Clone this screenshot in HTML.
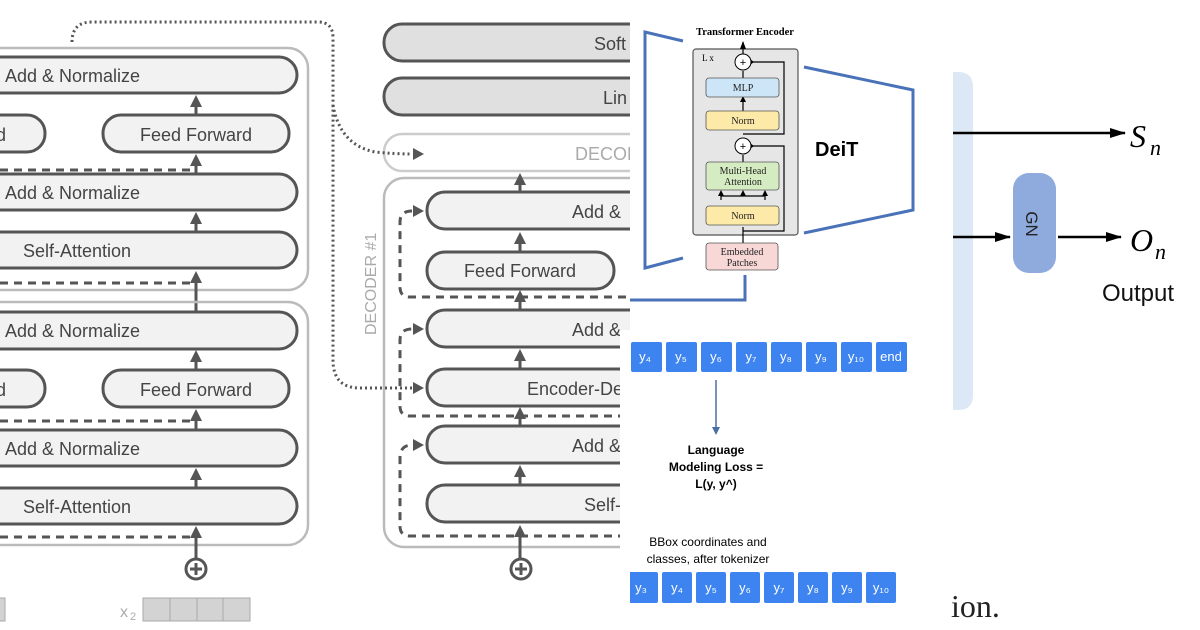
<!DOCTYPE html>
<html><head><meta charset="utf-8"><style>
html,body{margin:0;padding:0;background:#fff;}
svg{display:block;}
</style></head><body>
<svg width="1200" height="630" viewBox="0 0 1200 630" xmlns="http://www.w3.org/2000/svg" font-family="Liberation Sans, DejaVu Sans, sans-serif">
<defs>
<marker id="ga" markerWidth="12" markerHeight="12" refX="6" refY="6" orient="auto" markerUnits="userSpaceOnUse"><path d="M0,0 L12,6 L0,12 z" fill="#555"/></marker>
<marker id="ka" markerWidth="8" markerHeight="6" refX="7" refY="3" orient="auto" markerUnits="userSpaceOnUse"><path d="M0,0 L8,3 L0,6 z" fill="#000"/></marker>
<marker id="ka2" markerWidth="16" markerHeight="10" refX="15" refY="5" orient="auto" markerUnits="userSpaceOnUse"><path d="M0,0 L16,5 L0,10 z" fill="#000"/></marker>
<clipPath id="lc"><rect x="0" y="0" width="630" height="630"/></clipPath>
</defs>

<g clip-path="url(#lc)">
<rect x="-40" y="48" width="348" height="242" rx="20" fill="none" stroke="#bbb" stroke-width="2.5"/>
<rect x="-40" y="57" width="337" height="36" rx="18" fill="#f2f2f2" stroke="#555" stroke-width="3"/>
<text x="5" y="82" font-size="18" fill="#444">Add &amp; Normalize</text>
<rect x="-140" y="115" width="185" height="37" rx="18" fill="#f2f2f2" stroke="#555" stroke-width="3"/>
<text x="-10" y="141" font-size="18" fill="#444">rd</text>
<rect x="103" y="115" width="186" height="37" rx="18" fill="#f2f2f2" stroke="#555" stroke-width="3"/>
<text x="196" y="141" font-size="18" fill="#444" text-anchor="middle">Feed Forward</text>
<line x1="0" y1="170" x2="190" y2="170" stroke="#555" stroke-width="3" stroke-dasharray="8,6"/>
<rect x="-40" y="174" width="337" height="36" rx="18" fill="#f2f2f2" stroke="#555" stroke-width="3"/>
<text x="5" y="199" font-size="18" fill="#444">Add &amp; Normalize</text>
<rect x="-40" y="232" width="337" height="36" rx="18" fill="#f2f2f2" stroke="#555" stroke-width="3"/>
<text x="77" y="257" font-size="18" fill="#444" text-anchor="middle">Self-Attention</text>
<line x1="0" y1="283" x2="190" y2="283" stroke="#555" stroke-width="3" stroke-dasharray="8,6"/>
<g stroke="#555" stroke-width="3" marker-end="url(#ga)">
<line x1="196" y1="115" x2="196" y2="101"/>
<line x1="196" y1="174" x2="196" y2="160"/>
<line x1="196" y1="232" x2="196" y2="218"/>
<line x1="196" y1="312" x2="196" y2="277"/>
</g>

<rect x="-40" y="302" width="348" height="243" rx="20" fill="none" stroke="#bbb" stroke-width="2.5"/>
<rect x="-40" y="312" width="337" height="37" rx="18" fill="#f2f2f2" stroke="#555" stroke-width="3"/>
<text x="5" y="337" font-size="18" fill="#444">Add &amp; Normalize</text>
<rect x="-140" y="370" width="185" height="37" rx="18" fill="#f2f2f2" stroke="#555" stroke-width="3"/>
<text x="-10" y="396" font-size="18" fill="#444">rd</text>
<rect x="103" y="370" width="186" height="37" rx="18" fill="#f2f2f2" stroke="#555" stroke-width="3"/>
<text x="196" y="396" font-size="18" fill="#444" text-anchor="middle">Feed Forward</text>
<line x1="0" y1="421" x2="190" y2="421" stroke="#555" stroke-width="3" stroke-dasharray="8,6"/>
<rect x="-40" y="430" width="337" height="36" rx="18" fill="#f2f2f2" stroke="#555" stroke-width="3"/>
<text x="5" y="455" font-size="18" fill="#444">Add &amp; Normalize</text>
<rect x="-40" y="488" width="337" height="36" rx="18" fill="#f2f2f2" stroke="#555" stroke-width="3"/>
<text x="77" y="513" font-size="18" fill="#444" text-anchor="middle">Self-Attention</text>
<line x1="0" y1="537" x2="190" y2="537" stroke="#555" stroke-width="3" stroke-dasharray="8,6"/>
<g stroke="#555" stroke-width="3" marker-end="url(#ga)">
<line x1="196" y1="370" x2="196" y2="356"/>
<line x1="196" y1="430" x2="196" y2="415"/>
<line x1="196" y1="488" x2="196" y2="474"/>
<line x1="196" y1="559" x2="196" y2="532"/>
</g>
<circle cx="196" cy="569" r="10" fill="#fff" stroke="#555" stroke-width="3"/>
<path d="M190,569 H202 M196,563 V575" stroke="#555" stroke-width="3"/>
<rect x="-20" y="598" width="25" height="23" fill="#d3d3d3" stroke="#aaa"/>
<text x="120" y="617" font-size="16" fill="#aaa">x</text><text x="130" y="620" font-size="11" fill="#aaa">2</text>
<g fill="#d3d3d3" stroke="#aaa">
<rect x="143" y="598" width="27" height="23"/><rect x="170" y="598" width="27" height="23"/><rect x="197" y="598" width="26" height="23"/><rect x="223" y="598" width="27" height="23"/>
</g>

<rect x="384" y="24" width="300" height="37" rx="18" fill="#e0e0e0" stroke="#555" stroke-width="3"/>
<text x="594" y="50" font-size="18" fill="#444">Soft</text>
<rect x="384" y="78" width="300" height="37" rx="18" fill="#e0e0e0" stroke="#555" stroke-width="3"/>
<text x="603" y="104" font-size="18" fill="#444">Lin</text>
<rect x="384" y="134" width="300" height="37" rx="18" fill="#fff" stroke="#ccc" stroke-width="2.5"/>
<text x="575" y="160" font-size="18" fill="#aaa">DECOD</text>
<rect x="384" y="178" width="300" height="369" rx="20" fill="none" stroke="#bbb" stroke-width="2.5"/>
<text transform="translate(376,335) rotate(-90)" font-size="16" fill="#aaa">DECODER #1</text>
<rect x="427" y="192" width="260" height="37" rx="18" fill="#f2f2f2" stroke="#555" stroke-width="3"/>
<text x="572" y="218" font-size="18" fill="#444">Add &amp;</text>
<rect x="427" y="252" width="187" height="37" rx="18" fill="#f2f2f2" stroke="#555" stroke-width="3"/>
<text x="520" y="277" font-size="18" fill="#444" text-anchor="middle">Feed Forward</text>
<rect x="427" y="310" width="260" height="37" rx="18" fill="#f2f2f2" stroke="#555" stroke-width="3"/>
<text x="572" y="336" font-size="18" fill="#444">Add &amp;</text>
<rect x="427" y="369" width="260" height="37" rx="18" fill="#f2f2f2" stroke="#555" stroke-width="3"/>
<text x="527" y="395" font-size="18" fill="#444">Encoder-Dec</text>
<rect x="427" y="426" width="260" height="37" rx="18" fill="#f2f2f2" stroke="#555" stroke-width="3"/>
<text x="572" y="452" font-size="18" fill="#444">Add &amp;</text>
<rect x="427" y="485" width="260" height="37" rx="18" fill="#f2f2f2" stroke="#555" stroke-width="3"/>
<text x="584" y="511" font-size="18" fill="#444">Self-A</text>
<g stroke="#555" stroke-width="3" fill="none" stroke-dasharray="8,6">
<path d="M640,297 H410 Q400,297 400,287 V222 Q400,211 412,211"/>
<path d="M640,416 H410 Q400,416 400,406 V340 Q400,329 412,329"/>
<path d="M640,536 H410 Q400,536 400,526 V458 Q400,445 412,445"/>
</g>
<g fill="#555">
<path d="M413,205 L424,211 L413,217 z"/><path d="M413,323 L424,329 L413,335 z"/><path d="M413,439 L424,445 L413,451 z"/><path d="M413,382 L424,388 L413,394 z"/><path d="M413,148 L424,154 L413,160 z"/>
</g>
<g stroke="#555" stroke-width="3" marker-end="url(#ga)">
<line x1="520" y1="192" x2="520" y2="179"/>
<line x1="520" y1="252" x2="520" y2="238"/>
<line x1="520" y1="310" x2="520" y2="296"/>
<line x1="520" y1="369" x2="520" y2="355"/>
<line x1="520" y1="426" x2="520" y2="413"/>
<line x1="520" y1="485" x2="520" y2="471"/>
<line x1="520" y1="559" x2="520" y2="531"/>
</g>
<circle cx="521" cy="569" r="10" fill="#fff" stroke="#555" stroke-width="3"/>
<path d="M515,569 H527 M521,563 V575" stroke="#555" stroke-width="3"/>
<g stroke="#555" stroke-width="3" fill="none" stroke-dasharray="2,3">
<path d="M72,42 Q72,22 92,22 H318 Q333,22 333,38 V360 Q333,388 360,388 H412"/>
<path d="M333,105 Q340,145 375,152 Q395,154 412,154"/>
</g>
</g>

<g stroke="#4a72b8" stroke-width="3" fill="none">
<polyline points="683,41 645,32 645,268 683,258"/>
<polyline points="804,67 913,90 913,210 804,233"/>
<polyline points="745,275 745,300 630,300"/>
</g>
<text x="745" y="35" font-family="Liberation Serif, serif" font-weight="bold" font-size="10.5" text-anchor="middle">Transformer Encoder</text>
<rect x="693" y="49" width="105" height="186" rx="3" fill="#e6e6e6" stroke="#555" stroke-width="1.2"/>
<text x="702" y="61" font-family="Liberation Serif, serif" font-size="9">L x</text>
<g stroke="#000" stroke-width="1.2" fill="none">
<line x1="743" y1="54" x2="743" y2="42" marker-end="url(#ka)"/>
<line x1="743" y1="78" x2="743" y2="71"/>
<line x1="743" y1="111" x2="743" y2="99"/>
<line x1="743" y1="162" x2="743" y2="155"/>
<line x1="743" y1="243" x2="743" y2="227"/>
<polyline points="743,134 784,134 784,62 753,62"/>
<polyline points="743,231 784,231 784,146 753,146"/>
<polyline points="721,200 721,196 765,196 765,200"/>
</g>
<g fill="#000"><path d="M750,59 L754,62 L750,65z"/><path d="M750,143 L754,146 L750,149z"/><path d="M740,102 L743,96 L746,102z"/><path d="M718,196 L721,190 L724,196z"/><path d="M740,196 L743,190 L746,196z"/><path d="M762,196 L765,190 L768,196z"/></g>
<circle cx="743" cy="62" r="8" fill="#fff" stroke="#000"/><text x="743" y="66" font-size="11" text-anchor="middle">+</text>
<circle cx="743" cy="146" r="8" fill="#fff" stroke="#000"/><text x="743" y="150" font-size="11" text-anchor="middle">+</text>
<g stroke="#555" stroke-width="0.8">
<rect x="706" y="78" width="73" height="19" rx="3" fill="#cce6f7"/>
<rect x="706" y="111" width="73" height="19" rx="3" fill="#fde9a8"/>
<rect x="706" y="162" width="73" height="28" rx="3" fill="#d5ecc2"/>
<rect x="706" y="206" width="73" height="19" rx="3" fill="#fde9a8"/>
<rect x="706" y="243" width="72" height="27" rx="3" fill="#f8d7d7"/>
</g>
<g font-family="Liberation Serif, serif" font-size="10" text-anchor="middle" fill="#222">
<text x="743" y="91">MLP</text><text x="743" y="124">Norm</text>
<text x="743" y="174">Multi-Head</text><text x="743" y="185">Attention</text>
<text x="743" y="219">Norm</text>
<text x="742" y="255">Embedded</text><text x="742" y="266">Patches</text>
</g>
<text x="815" y="156" font-size="20" font-weight="bold">DeiT</text>

<g fill="#3d84f0">
<rect x="631" y="342" width="31" height="30" rx="2"/><rect x="666" y="342" width="31" height="30" rx="2"/><rect x="701" y="342" width="31" height="30" rx="2"/><rect x="736" y="342" width="31" height="30" rx="2"/><rect x="771" y="342" width="31" height="30" rx="2"/><rect x="806" y="342" width="31" height="30" rx="2"/><rect x="841" y="342" width="31" height="30" rx="2"/><rect x="876" y="342" width="31" height="30" rx="2"/>
<rect x="628" y="572" width="30" height="31" rx="2"/><rect x="662" y="572" width="30" height="31" rx="2"/><rect x="696" y="572" width="30" height="31" rx="2"/><rect x="730" y="572" width="30" height="31" rx="2"/><rect x="764" y="572" width="30" height="31" rx="2"/><rect x="798" y="572" width="30" height="31" rx="2"/><rect x="832" y="572" width="30" height="31" rx="2"/><rect x="866" y="572" width="30" height="31" rx="2"/>
</g>
<g fill="#fff" font-size="13" text-anchor="middle">
<text x="645" y="361">y₄</text><text x="681" y="361">y₅</text><text x="716" y="361">y₆</text><text x="751" y="361">y₇</text><text x="786" y="361">y₈</text><text x="821" y="361">y₉</text><text x="856" y="361">y₁₀</text><text x="891" y="361">end</text>
<text x="641" y="592">y₃</text><text x="677" y="592">y₄</text><text x="711" y="592">y₅</text><text x="745" y="592">y₆</text><text x="779" y="592">y₇</text><text x="813" y="592">y₈</text><text x="847" y="592">y₉</text><text x="881" y="592">y₁₀</text>
</g>
<rect x="620" y="330" width="10" height="300" fill="#fff"/>
<line x1="716" y1="380" x2="716" y2="428" stroke="#4a6fa5" stroke-width="1.5"/>
<path d="M712,427 L716,435 L720,427z" fill="#4a6fa5"/>
<g font-size="12" font-weight="bold" text-anchor="middle">
<text x="716" y="454">Language</text><text x="716" y="471">Modeling Loss =</text><text x="716" y="488">L(y, y^)</text>
</g>
<g font-size="12" text-anchor="middle">
<text x="708" y="546">BBox coordinates and</text><text x="708" y="563">classes, after tokenizer</text>
</g>

<path d="M953,72 H958 Q973,72 973,87 V395 Q973,410 958,410 H953z" fill="#dde8f6"/>
<line x1="953" y1="133" x2="1125" y2="133" stroke="#000" stroke-width="2.5" marker-end="url(#ka2)"/>
<line x1="953" y1="237" x2="1010" y2="237" stroke="#000" stroke-width="2.5" marker-end="url(#ka2)"/>
<line x1="1058" y1="237" x2="1121" y2="237" stroke="#000" stroke-width="2.5" marker-end="url(#ka2)"/>
<rect x="1013" y="173" width="43" height="100" rx="16" fill="#8faadc"/>
<text transform="translate(1026,224) rotate(90)" font-size="17" text-anchor="middle" fill="#222">GN</text>
<text x="1130" y="147" font-family="Liberation Serif, serif" font-style="italic" font-size="32">S</text>
<text x="1150" y="155" font-family="Liberation Serif, serif" font-style="italic" font-size="22">n</text>
<text x="1130" y="251" font-family="Liberation Serif, serif" font-style="italic" font-size="32">O</text>
<text x="1155" y="259" font-family="Liberation Serif, serif" font-style="italic" font-size="22">n</text>
<text x="1102" y="301" font-size="24" fill="#111">Output</text>
<text x="951" y="617" font-family="Liberation Serif, serif" font-size="32" fill="#222">ion.</text>
</svg>
</body></html>
